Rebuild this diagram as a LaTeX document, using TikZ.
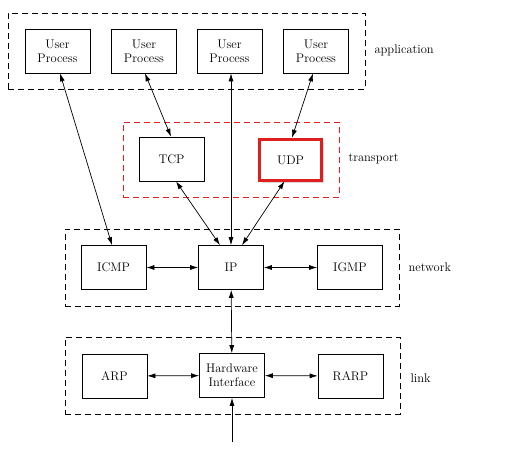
\documentclass[tikz,border=0pt]{standalone}
\usetikzlibrary{arrows.meta,shadows}
\begin{document}
\begin{tikzpicture}[x=1pt,y=-1pt,
  box/.style={draw,line width=0.7pt,minimum width=65pt,minimum height=44pt,inner sep=0pt,align=center,font=\fontsize{12.5}{14}\selectfont},
  layer/.style={draw,dash pattern=on 6pt off 4pt,line width=0.7pt},
  lbl/.style={anchor=west,font=\fontsize{12.5}{14}\selectfont},
  conn/.style={line width=0.7pt,{Latex[length=8pt,width=5pt]}-{Latex[length=8pt,width=5pt]}},
  one/.style={line width=0.7pt,-{Latex[length=8pt,width=5pt]}}]
\useasboundingbox (0,0) rectangle (521,448);
\definecolor{udpred}{RGB}{225,30,30}
% layers
\node[layer,minimum width=357pt,minimum height=76pt,inner sep=0pt] (app) at (186.5,51) {};
\node[draw=udpred,dash pattern=on 6pt off 4pt,line width=0.7pt,minimum width=216pt,minimum height=75pt,inner sep=0pt] (tr) at (231,159.5) {};
\node[layer,minimum width=334pt,minimum height=77pt,inner sep=0pt] (net) at (232,267.5) {};
\node[layer,minimum width=335pt,minimum height=77pt,inner sep=0pt] (lnk) at (232.5,375.5) {};
\node[lbl] (lapp) at (371,50) {application};
\node[lbl] (ltr) at (345,159) {transport};
\node[lbl] (lnet) at (405,267) {network};
\node[lbl] (llnk) at (407,378) {link};
% boxes
\node[box] (u1) at (57.5,51) {User\\Process};
\node[box] (u2) at (144,51) {User\\Process};
\node[box] (u3) at (229.5,51) {User\\Process};
\node[box] (u4) at (316,51) {User\\Process};
\node[box] (tcp) at (171.5,159) {TCP};
\node[box,draw=udpred,fill=white,line width=3.5pt,minimum width=62pt,minimum height=41pt,drop shadow={opacity=0.3,shadow xshift=2pt,shadow yshift=-2pt}] (udp) at (290.5,160) {UDP};
\node[box] (icmp) at (113.5,267.5) {ICMP};
\node[box] (ip) at (231,267.5) {IP};
\node[box] (igmp) at (350,267.5) {IGMP};
\node[box] (arp) at (114.5,376) {ARP};
\node[box] (hw) at (232,375.5) {Hardware\\Interface};
\node[box] (rarp) at (350.5,376) {RARP};
\coordinate (bot) at (232,442);
% connectors
\draw[conn] (icmp.north -| 112,0) -- (u1.south -| 60,0);
\draw[conn] (tcp.north -| 171,0) -- (u2.south -| 145,0);
\draw[conn] (ip.north -| 231,0) -- (u3.south -| 231,0);
\draw[conn] ([xshift=1.5pt]udp.north) -- (u4.south -| 313,0);
\draw[conn] (tcp.south -| 176,0) -- (ip.north -| 220,0);
\draw[conn] ([xshift=-6pt,yshift=1pt]udp.south) -- (ip.north -| 242,0);
\draw[conn] (icmp) -- (ip);
\draw[conn] (ip) -- (igmp);
\draw[conn] (ip) -- (hw);
\draw[conn] (arp) -- (hw);
\draw[conn] (hw) -- (rarp);
\draw[one] (bot) -- (hw);
\end{tikzpicture}
\end{document}
